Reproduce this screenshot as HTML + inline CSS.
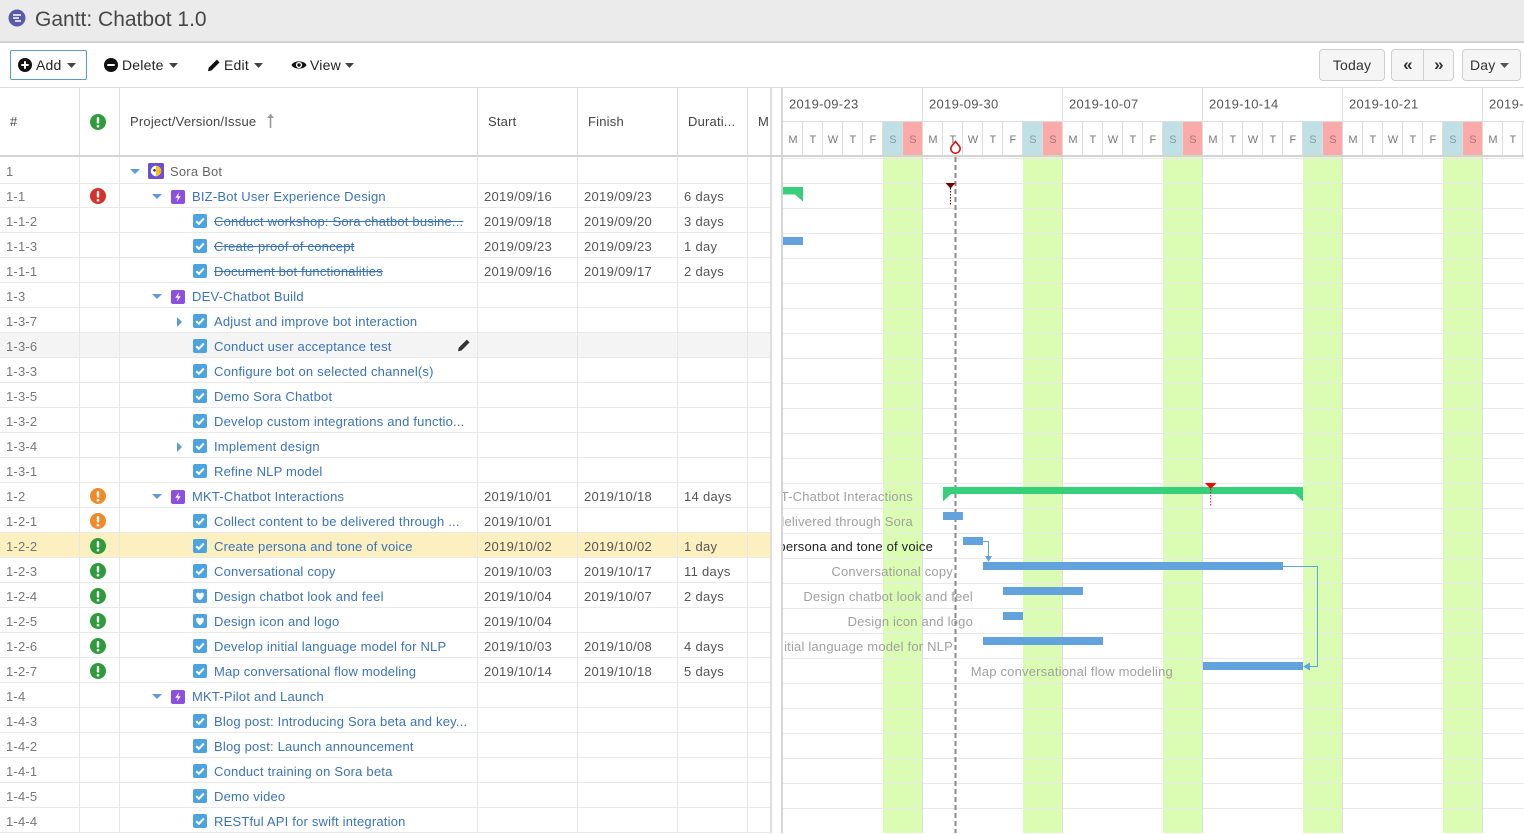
<!DOCTYPE html>
<html><head><meta charset="utf-8">
<style>
*{box-sizing:border-box}
body{margin:0;width:1524px;height:833px;overflow:hidden;position:relative;background:#fff;font-family:"Liberation Sans",Arial,sans-serif;font-size:13px;letter-spacing:0.2px;color:#444}
.a{position:absolute}
.r{position:absolute;left:0;width:770px;height:25px;border-bottom:1px solid #e9e9e9}
.n{position:absolute;left:6px;top:1px;line-height:25px;color:#777}
.t{position:absolute;top:1px;line-height:25px;color:#3b73b8;white-space:nowrap}
.s{text-decoration:line-through}
.d{position:absolute;top:1px;line-height:25px;color:#555;letter-spacing:0.3px}
.cb{position:absolute;left:193px;top:6px}
.vi{position:absolute;left:171px;top:6.5px}
.da{position:absolute;left:152px;top:11px}
.ra{position:absolute;left:177px;top:8.5px}
.pr{position:absolute;left:90px;top:5px}
.vl{position:absolute;width:1px;background:#e6e6e6;top:157px;height:676px}
.hl{position:absolute;width:1px;background:#dcdcdc;top:88px;height:67px}
.btn{position:absolute;background:#f5f5f5;border:1px solid #cfcfcf;border-radius:4px;color:#333;font-size:14px;text-align:center}
.tb{position:absolute;top:43px;line-height:44px;font-size:14px;color:#222}
</style></head>
<body>

<!-- Title bar -->
<div class="a" style="left:0;top:0;width:1524px;height:41px;background:#ebebeb"></div>
<div class="a" style="left:0;top:41px;width:1524px;height:2px;background:#d2d2d2"></div>
<svg class="a" style="left:8px;top:9px" width="18" height="18" viewBox="0 0 18 18"><circle cx="9" cy="9" r="8.5" fill="#5b5aa6"/><path d="M5 6H13M5 9H11M7 12H13" stroke="#fff" stroke-width="1.6"/></svg>
<div class="a" style="left:35px;top:-1px;line-height:41px;font-size:21px;color:#474747;letter-spacing:0px">Gantt: Chatbot 1.0</div>

<!-- Toolbar -->
<div class="a" style="left:0;top:87px;width:1524px;height:1px;background:#dddddd"></div>
<div class="a" style="left:10px;top:50px;width:77px;height:30px;border:1px solid #5b9bd5;border-radius:2px;background:#fff"></div>
<svg class="a" style="left:18px;top:58px" width="14" height="14"><circle cx="7" cy="7" r="7" fill="#111"/><path d="M7 3.3V10.7M3.3 7H10.7" stroke="#fff" stroke-width="2"/></svg>
<div class="tb" style="left:36px">Add</div>
<svg class="a" style="left:67px;top:63px" width="9" height="5"><path d="M0 0H9L4.5 5Z" fill="#444"/></svg>
<svg class="a" style="left:104px;top:58px" width="14" height="14"><circle cx="7" cy="7" r="7" fill="#111"/><path d="M3.3 7H10.7" stroke="#fff" stroke-width="2"/></svg>
<div class="tb" style="left:122px">Delete</div>
<svg class="a" style="left:169px;top:63px" width="9" height="5"><path d="M0 0H9L4.5 5Z" fill="#444"/></svg>
<svg class="a" style="left:207px;top:58px" width="14" height="14"><path d="M1 13.2L1.7 9.7L9.8 1.6L12.6 4.4L4.5 12.5Z" fill="#111"/></svg>
<div class="tb" style="left:224px">Edit</div>
<svg class="a" style="left:254px;top:63px" width="9" height="5"><path d="M0 0H9L4.5 5Z" fill="#444"/></svg>
<svg class="a" style="left:291px;top:59px" width="16" height="12"><path d="M0.5 6C3 1.2 13 1.2 15.5 6C13 10.8 3 10.8 0.5 6Z" fill="#111"/><circle cx="8" cy="6" r="3.1" fill="#fff"/><circle cx="8" cy="6" r="1.7" fill="#111"/></svg>
<div class="tb" style="left:310px">View</div>
<svg class="a" style="left:345px;top:63px" width="9" height="5"><path d="M0 0H9L4.5 5Z" fill="#444"/></svg>

<div class="btn" style="left:1319px;top:49px;width:66px;height:32px;line-height:30px">Today</div>
<div class="btn" style="left:1391px;top:49px;width:63px;height:32px;line-height:29px;font-size:17px;font-weight:bold"><span style="position:absolute;left:9px;width:14px">«</span><span style="position:absolute;left:31px;top:0;width:1px;height:30px;background:#cfcfcf"></span><span style="position:absolute;left:40px;width:14px">»</span></div>
<div class="btn" style="left:1462px;top:49px;width:59px;height:32px;line-height:30px;text-align:left;padding-left:7px">Day<svg style="position:absolute;left:37px;top:13px" width="9" height="5"><path d="M0 0H9L4.5 5Z" fill="#555"/></svg></div>

<!-- Left grid header -->
<div class="a" style="left:10px;top:88px;line-height:67px;color:#444">#</div>
<svg class="a" style="left:90px;top:114px" width="16" height="16"><circle cx="8" cy="8" r="8" fill="#2f9c3b"/><rect x="6.8" y="3" width="2.4" height="6.6" rx="1" fill="#fff"/><circle cx="8" cy="12.2" r="1.35" fill="#fff"/></svg>
<div class="a" style="left:130px;top:88px;line-height:67px;color:#444">Project/Version/Issue</div>
<svg class="a" style="left:266px;top:113px" width="9" height="16"><path d="M4.5 1V15" stroke="#999" stroke-width="1.6"/><path d="M1 5L4.5 1L8 5Z" fill="#999"/></svg>
<div class="a" style="left:488px;top:88px;line-height:67px;color:#444">Start</div>
<div class="a" style="left:588px;top:88px;line-height:67px;color:#444">Finish</div>
<div class="a" style="left:688px;top:88px;line-height:67px;color:#444">Durati...</div>
<div class="a" style="left:758px;top:88px;line-height:67px;color:#444;width:12px;overflow:hidden">M</div>
<div class="a" style="left:0;top:155px;width:1524px;height:2px;background:#d3d3d3"></div>

<!-- Left grid rows -->
<div class="r" style="top:158px;height:26px"><span class="n">1</span><svg class="da" style="left:130px" width="10" height="6"><path d="M0 0H10L5 5Z" fill="#5b9bd8"/></svg><svg class="a" style="left:148px;top:5px" width="16" height="16"><rect width="16" height="16" rx="1.5" fill="#6b4fd0"/><circle cx="8" cy="8" r="5.2" fill="#fff"/><path d="M8 2.8A5.2 5.2 0 0 1 8 13.2Z" fill="#f5c221"/><circle cx="6.5" cy="7.3" r="1.3" fill="#333"/><path d="M11 7L14 8.5L11 10Z" fill="#f5a021"/></svg><span class="t" style="left:170px;color:#666">Sora Bot</span></div>

<div class="r" style="top:183px"><span class="n">1-1</span><svg class="pr" width="16" height="16"><circle cx="8" cy="8" r="8" fill="#d9302b"/><rect x="6.8" y="3" width="2.4" height="6.6" rx="1" fill="#fff"/><circle cx="8" cy="12.2" r="1.35" fill="#fff"/></svg><svg class="da" width="10" height="6"><path d="M0 0H10L5 5Z" fill="#5b9bd8"/></svg><svg class="vi" width="14" height="14"><rect width="14" height="14" rx="2" fill="#8d4fdf"/><path d="M8.2 2.2L4.3 7.8H6.9L5.8 11.8L9.7 6.2H7.1Z" fill="#fff"/></svg><span class="t" style="left:192px">BIZ-Bot User Experience Design</span><span class="d" style="left:484px">2019/09/16</span><span class="d" style="left:584px">2019/09/23</span><span class="d" style="left:684px">6 days</span></div>

<div class="r" style="top:208px"><span class="n">1-1-2</span><svg class="cb" width="14" height="14"><rect width="14" height="14" rx="2" fill="#4ba4e0"/><path d="M3.3 7.3L5.9 9.8L10.8 4.5" stroke="#fff" stroke-width="2.1" fill="none"/></svg><span class="t s" style="left:214px">Conduct workshop: Sora chatbot busine...</span><span class="d" style="left:484px">2019/09/18</span><span class="d" style="left:584px">2019/09/20</span><span class="d" style="left:684px">3 days</span></div>

<div class="r" style="top:233px"><span class="n">1-1-3</span><svg class="cb" width="14" height="14"><rect width="14" height="14" rx="2" fill="#4ba4e0"/><path d="M3.3 7.3L5.9 9.8L10.8 4.5" stroke="#fff" stroke-width="2.1" fill="none"/></svg><span class="t s" style="left:214px">Create proof of concept</span><span class="d" style="left:484px">2019/09/23</span><span class="d" style="left:584px">2019/09/23</span><span class="d" style="left:684px">1 day</span></div>

<div class="r" style="top:258px"><span class="n">1-1-1</span><svg class="cb" width="14" height="14"><rect width="14" height="14" rx="2" fill="#4ba4e0"/><path d="M3.3 7.3L5.9 9.8L10.8 4.5" stroke="#fff" stroke-width="2.1" fill="none"/></svg><span class="t s" style="left:214px">Document bot functionalities</span><span class="d" style="left:484px">2019/09/16</span><span class="d" style="left:584px">2019/09/17</span><span class="d" style="left:684px">2 days</span></div>

<div class="r" style="top:283px"><span class="n">1-3</span><svg class="da" width="10" height="6"><path d="M0 0H10L5 5Z" fill="#5b9bd8"/></svg><svg class="vi" width="14" height="14"><rect width="14" height="14" rx="2" fill="#8d4fdf"/><path d="M8.2 2.2L4.3 7.8H6.9L5.8 11.8L9.7 6.2H7.1Z" fill="#fff"/></svg><span class="t" style="left:192px">DEV-Chatbot Build</span></div>

<div class="r" style="top:308px"><span class="n">1-3-7</span><svg class="ra" width="6" height="10"><path d="M0 0V10L5 5Z" fill="#5b9bd8"/></svg><svg class="cb" width="14" height="14"><rect width="14" height="14" rx="2" fill="#4ba4e0"/><path d="M3.3 7.3L5.9 9.8L10.8 4.5" stroke="#fff" stroke-width="2.1" fill="none"/></svg><span class="t" style="left:214px">Adjust and improve bot interaction</span></div>

<div class="r" style="top:333px;background:#f4f4f4"><span class="n">1-3-6</span><svg class="cb" width="14" height="14"><rect width="14" height="14" rx="2" fill="#4ba4e0"/><path d="M3.3 7.3L5.9 9.8L10.8 4.5" stroke="#fff" stroke-width="2.1" fill="none"/></svg><span class="t" style="left:214px">Conduct user acceptance test</span><svg class="a" style="left:457px;top:5px" width="14" height="14"><path d="M1 13.2L1.7 9.7L9.8 1.6L12.6 4.4L4.5 12.5Z" fill="#333"/></svg></div>

<div class="r" style="top:358px"><span class="n">1-3-3</span><svg class="cb" width="14" height="14"><rect width="14" height="14" rx="2" fill="#4ba4e0"/><path d="M3.3 7.3L5.9 9.8L10.8 4.5" stroke="#fff" stroke-width="2.1" fill="none"/></svg><span class="t" style="left:214px">Configure bot on selected channel(s)</span></div>

<div class="r" style="top:383px"><span class="n">1-3-5</span><svg class="cb" width="14" height="14"><rect width="14" height="14" rx="2" fill="#4ba4e0"/><path d="M3.3 7.3L5.9 9.8L10.8 4.5" stroke="#fff" stroke-width="2.1" fill="none"/></svg><span class="t" style="left:214px">Demo Sora Chatbot</span></div>

<div class="r" style="top:408px"><span class="n">1-3-2</span><svg class="cb" width="14" height="14"><rect width="14" height="14" rx="2" fill="#4ba4e0"/><path d="M3.3 7.3L5.9 9.8L10.8 4.5" stroke="#fff" stroke-width="2.1" fill="none"/></svg><span class="t" style="left:214px">Develop custom integrations and functio...</span></div>

<div class="r" style="top:433px"><span class="n">1-3-4</span><svg class="ra" width="6" height="10"><path d="M0 0V10L5 5Z" fill="#5b9bd8"/></svg><svg class="cb" width="14" height="14"><rect width="14" height="14" rx="2" fill="#4ba4e0"/><path d="M3.3 7.3L5.9 9.8L10.8 4.5" stroke="#fff" stroke-width="2.1" fill="none"/></svg><span class="t" style="left:214px">Implement design</span></div>

<div class="r" style="top:458px"><span class="n">1-3-1</span><svg class="cb" width="14" height="14"><rect width="14" height="14" rx="2" fill="#4ba4e0"/><path d="M3.3 7.3L5.9 9.8L10.8 4.5" stroke="#fff" stroke-width="2.1" fill="none"/></svg><span class="t" style="left:214px">Refine NLP model</span></div>

<div class="r" style="top:483px"><span class="n">1-2</span><svg class="pr" width="16" height="16"><circle cx="8" cy="8" r="8" fill="#f28a2a"/><rect x="6.8" y="3" width="2.4" height="6.6" rx="1" fill="#fff"/><circle cx="8" cy="12.2" r="1.35" fill="#fff"/></svg><svg class="da" width="10" height="6"><path d="M0 0H10L5 5Z" fill="#5b9bd8"/></svg><svg class="vi" width="14" height="14"><rect width="14" height="14" rx="2" fill="#8d4fdf"/><path d="M8.2 2.2L4.3 7.8H6.9L5.8 11.8L9.7 6.2H7.1Z" fill="#fff"/></svg><span class="t" style="left:192px">MKT-Chatbot Interactions</span><span class="d" style="left:484px">2019/10/01</span><span class="d" style="left:584px">2019/10/18</span><span class="d" style="left:684px">14 days</span></div>

<div class="r" style="top:508px"><span class="n">1-2-1</span><svg class="pr" width="16" height="16"><circle cx="8" cy="8" r="8" fill="#f28a2a"/><rect x="6.8" y="3" width="2.4" height="6.6" rx="1" fill="#fff"/><circle cx="8" cy="12.2" r="1.35" fill="#fff"/></svg><svg class="cb" width="14" height="14"><rect width="14" height="14" rx="2" fill="#4ba4e0"/><path d="M3.3 7.3L5.9 9.8L10.8 4.5" stroke="#fff" stroke-width="2.1" fill="none"/></svg><span class="t" style="left:214px">Collect content to be delivered through ...</span><span class="d" style="left:484px">2019/10/01</span></div>

<div class="r" style="top:533px;background:#fcefc0"><span class="n">1-2-2</span><svg class="pr" width="16" height="16"><circle cx="8" cy="8" r="8" fill="#2f9c3b"/><rect x="6.8" y="3" width="2.4" height="6.6" rx="1" fill="#fff"/><circle cx="8" cy="12.2" r="1.35" fill="#fff"/></svg><svg class="cb" width="14" height="14"><rect width="14" height="14" rx="2" fill="#4ba4e0"/><path d="M3.3 7.3L5.9 9.8L10.8 4.5" stroke="#fff" stroke-width="2.1" fill="none"/></svg><span class="t" style="left:214px">Create persona and tone of voice</span><span class="d" style="left:484px">2019/10/02</span><span class="d" style="left:584px">2019/10/02</span><span class="d" style="left:684px">1 day</span></div>

<div class="r" style="top:558px"><span class="n">1-2-3</span><svg class="pr" width="16" height="16"><circle cx="8" cy="8" r="8" fill="#2f9c3b"/><rect x="6.8" y="3" width="2.4" height="6.6" rx="1" fill="#fff"/><circle cx="8" cy="12.2" r="1.35" fill="#fff"/></svg><svg class="cb" width="14" height="14"><rect width="14" height="14" rx="2" fill="#4ba4e0"/><path d="M3.3 7.3L5.9 9.8L10.8 4.5" stroke="#fff" stroke-width="2.1" fill="none"/></svg><span class="t" style="left:214px">Conversational copy</span><span class="d" style="left:484px">2019/10/03</span><span class="d" style="left:584px">2019/10/17</span><span class="d" style="left:684px">11 days</span></div>

<div class="r" style="top:583px"><span class="n">1-2-4</span><svg class="pr" width="16" height="16"><circle cx="8" cy="8" r="8" fill="#2f9c3b"/><rect x="6.8" y="3" width="2.4" height="6.6" rx="1" fill="#fff"/><circle cx="8" cy="12.2" r="1.35" fill="#fff"/></svg><svg class="cb" width="14" height="14"><rect width="14" height="14" rx="2" fill="#4ba4e0"/><path d="M7 11.3C2 7.9 2.6 3.6 5 3.6C6 3.6 6.7 4.3 7 5C7.3 4.3 8 3.6 9 3.6C11.4 3.6 12 7.9 7 11.3Z" fill="#fff"/></svg><span class="t" style="left:214px">Design chatbot look and feel</span><span class="d" style="left:484px">2019/10/04</span><span class="d" style="left:584px">2019/10/07</span><span class="d" style="left:684px">2 days</span></div>

<div class="r" style="top:608px"><span class="n">1-2-5</span><svg class="pr" width="16" height="16"><circle cx="8" cy="8" r="8" fill="#2f9c3b"/><rect x="6.8" y="3" width="2.4" height="6.6" rx="1" fill="#fff"/><circle cx="8" cy="12.2" r="1.35" fill="#fff"/></svg><svg class="cb" width="14" height="14"><rect width="14" height="14" rx="2" fill="#4ba4e0"/><path d="M7 11.3C2 7.9 2.6 3.6 5 3.6C6 3.6 6.7 4.3 7 5C7.3 4.3 8 3.6 9 3.6C11.4 3.6 12 7.9 7 11.3Z" fill="#fff"/></svg><span class="t" style="left:214px">Design icon and logo</span><span class="d" style="left:484px">2019/10/04</span></div>

<div class="r" style="top:633px"><span class="n">1-2-6</span><svg class="pr" width="16" height="16"><circle cx="8" cy="8" r="8" fill="#2f9c3b"/><rect x="6.8" y="3" width="2.4" height="6.6" rx="1" fill="#fff"/><circle cx="8" cy="12.2" r="1.35" fill="#fff"/></svg><svg class="cb" width="14" height="14"><rect width="14" height="14" rx="2" fill="#4ba4e0"/><path d="M3.3 7.3L5.9 9.8L10.8 4.5" stroke="#fff" stroke-width="2.1" fill="none"/></svg><span class="t" style="left:214px">Develop initial language model for NLP</span><span class="d" style="left:484px">2019/10/03</span><span class="d" style="left:584px">2019/10/08</span><span class="d" style="left:684px">4 days</span></div>

<div class="r" style="top:658px"><span class="n">1-2-7</span><svg class="pr" width="16" height="16"><circle cx="8" cy="8" r="8" fill="#2f9c3b"/><rect x="6.8" y="3" width="2.4" height="6.6" rx="1" fill="#fff"/><circle cx="8" cy="12.2" r="1.35" fill="#fff"/></svg><svg class="cb" width="14" height="14"><rect width="14" height="14" rx="2" fill="#4ba4e0"/><path d="M3.3 7.3L5.9 9.8L10.8 4.5" stroke="#fff" stroke-width="2.1" fill="none"/></svg><span class="t" style="left:214px">Map conversational flow modeling</span><span class="d" style="left:484px">2019/10/14</span><span class="d" style="left:584px">2019/10/18</span><span class="d" style="left:684px">5 days</span></div>

<div class="r" style="top:683px"><span class="n">1-4</span><svg class="da" width="10" height="6"><path d="M0 0H10L5 5Z" fill="#5b9bd8"/></svg><svg class="vi" width="14" height="14"><rect width="14" height="14" rx="2" fill="#8d4fdf"/><path d="M8.2 2.2L4.3 7.8H6.9L5.8 11.8L9.7 6.2H7.1Z" fill="#fff"/></svg><span class="t" style="left:192px">MKT-Pilot and Launch</span></div>

<div class="r" style="top:708px"><span class="n">1-4-3</span><svg class="cb" width="14" height="14"><rect width="14" height="14" rx="2" fill="#4ba4e0"/><path d="M3.3 7.3L5.9 9.8L10.8 4.5" stroke="#fff" stroke-width="2.1" fill="none"/></svg><span class="t" style="left:214px">Blog post: Introducing Sora beta and key...</span></div>

<div class="r" style="top:733px"><span class="n">1-4-2</span><svg class="cb" width="14" height="14"><rect width="14" height="14" rx="2" fill="#4ba4e0"/><path d="M3.3 7.3L5.9 9.8L10.8 4.5" stroke="#fff" stroke-width="2.1" fill="none"/></svg><span class="t" style="left:214px">Blog post: Launch announcement</span></div>

<div class="r" style="top:758px"><span class="n">1-4-1</span><svg class="cb" width="14" height="14"><rect width="14" height="14" rx="2" fill="#4ba4e0"/><path d="M3.3 7.3L5.9 9.8L10.8 4.5" stroke="#fff" stroke-width="2.1" fill="none"/></svg><span class="t" style="left:214px">Conduct training on Sora beta</span></div>

<div class="r" style="top:783px"><span class="n">1-4-5</span><svg class="cb" width="14" height="14"><rect width="14" height="14" rx="2" fill="#4ba4e0"/><path d="M3.3 7.3L5.9 9.8L10.8 4.5" stroke="#fff" stroke-width="2.1" fill="none"/></svg><span class="t" style="left:214px">Demo video</span></div>

<div class="r" style="top:808px"><span class="n">1-4-4</span><svg class="cb" width="14" height="14"><rect width="14" height="14" rx="2" fill="#4ba4e0"/><path d="M3.3 7.3L5.9 9.8L10.8 4.5" stroke="#fff" stroke-width="2.1" fill="none"/></svg><span class="t" style="left:214px">RESTful API for swift integration</span></div>

<!-- grid vertical lines -->
<div class="hl" style="left:79px"></div><div class="hl" style="left:119px"></div><div class="hl" style="left:477px"></div><div class="hl" style="left:577px"></div><div class="hl" style="left:677px"></div><div class="hl" style="left:747px"></div>
<div class="vl" style="left:79px"></div><div class="vl" style="left:119px"></div><div class="vl" style="left:477px"></div><div class="vl" style="left:577px"></div><div class="vl" style="left:677px"></div><div class="vl" style="left:747px"></div>

<!-- Gantt -->
<svg class="a" style="left:0;top:0" width="1524" height="833" font-family="Liberation Sans, Arial, sans-serif">
<defs>
<pattern id="rows" patternUnits="userSpaceOnUse" x="0" y="158" width="40" height="25"><rect x="0" y="25" width="40" height="1" fill="#e9e9e9"/><rect x="0" y="0" width="40" height="1" fill="#e9e9e9"/></pattern>
<pattern id="days" patternUnits="userSpaceOnUse" x="783" y="0" width="20" height="40"><rect x="19" y="0" width="1" height="40" fill="#dddddd"/></pattern>
<clipPath id="gc"><rect x="783" y="157" width="741" height="676"/></clipPath>
</defs>
<!-- splitter -->
<rect x="770" y="88" width="13" height="745" fill="#fff"/>
<rect x="770" y="88" width="2" height="745" fill="#dedede"/>
<rect x="781" y="88" width="2" height="745" fill="#d6d6d6"/>
<!-- header -->
<rect x="783" y="121" width="741" height="1" fill="#dddddd"/>
<rect x="883" y="122" width="20" height="33" fill="#bfe1e6"/><rect x="903" y="122" width="20" height="33" fill="#fbaaaa"/>
<rect x="1023" y="122" width="20" height="33" fill="#bfe1e6"/><rect x="1043" y="122" width="20" height="33" fill="#fbaaaa"/>
<rect x="1163" y="122" width="20" height="33" fill="#bfe1e6"/><rect x="1183" y="122" width="20" height="33" fill="#fbaaaa"/>
<rect x="1303" y="122" width="20" height="33" fill="#bfe1e6"/><rect x="1323" y="122" width="20" height="33" fill="#fbaaaa"/>
<rect x="1443" y="122" width="20" height="33" fill="#bfe1e6"/><rect x="1463" y="122" width="20" height="33" fill="#fbaaaa"/>
<rect x="783" y="122" width="741" height="33" fill="url(#days)"/>
<g fill="#dddddd"><rect x="922" y="88" width="1" height="34"/><rect x="1062" y="88" width="1" height="34"/><rect x="1202" y="88" width="1" height="34"/><rect x="1342" y="88" width="1" height="34"/><rect x="1482" y="88" width="1" height="34"/></g>
<g font-size="13" fill="#555" letter-spacing="0.3">
<text x="789" y="108.5">2019-09-23</text><text x="929" y="108.5">2019-09-30</text><text x="1069" y="108.5">2019-10-07</text><text x="1209" y="108.5">2019-10-14</text><text x="1349" y="108.5">2019-10-21</text><text x="1489" y="108.5">2019-10-28</text>
</g>
<g font-size="11" fill="#777" text-anchor="middle">
<text x="793" y="143">M</text><text x="813" y="143">T</text><text x="833" y="143">W</text><text x="853" y="143">T</text><text x="873" y="143">F</text><text x="893" y="143" fill="#8a9a9c">S</text><text x="913" y="143" fill="#a87777">S</text>
<text x="933" y="143">M</text><text x="953" y="143">T</text><text x="973" y="143">W</text><text x="993" y="143">T</text><text x="1013" y="143">F</text><text x="1033" y="143" fill="#8a9a9c">S</text><text x="1053" y="143" fill="#a87777">S</text>
<text x="1073" y="143">M</text><text x="1093" y="143">T</text><text x="1113" y="143">W</text><text x="1133" y="143">T</text><text x="1153" y="143">F</text><text x="1173" y="143" fill="#8a9a9c">S</text><text x="1193" y="143" fill="#a87777">S</text>
<text x="1213" y="143">M</text><text x="1233" y="143">T</text><text x="1253" y="143">W</text><text x="1273" y="143">T</text><text x="1293" y="143">F</text><text x="1313" y="143" fill="#8a9a9c">S</text><text x="1333" y="143" fill="#a87777">S</text>
<text x="1353" y="143">M</text><text x="1373" y="143">T</text><text x="1393" y="143">W</text><text x="1413" y="143">T</text><text x="1433" y="143">F</text><text x="1453" y="143" fill="#8a9a9c">S</text><text x="1473" y="143" fill="#a87777">S</text>
<text x="1493" y="143">M</text><text x="1513" y="143">T</text>
</g>
<rect x="770" y="155" width="754" height="2" fill="#d3d3d3"/>
<!-- body -->
<g fill="#dafdb3">
<rect x="883" y="157" width="40" height="676"/><rect x="1023" y="157" width="40" height="676"/><rect x="1163" y="157" width="40" height="676"/><rect x="1303" y="157" width="40" height="676"/><rect x="1443" y="157" width="40" height="676"/>
</g>
<rect x="783" y="158" width="741" height="675" fill="url(#rows)"/>
<g fill="#dddddd"><rect x="922" y="157" width="1" height="676"/><rect x="1062" y="157" width="1" height="676"/><rect x="1202" y="157" width="1" height="676"/><rect x="1342" y="157" width="1" height="676"/><rect x="1482" y="157" width="1" height="676"/></g>

<!-- today line -->
<line x1="955.5" y1="157" x2="955.5" y2="833" stroke="#8a8a8a" stroke-width="2" stroke-dasharray="5 3"/>
<path d="M955.5 141.5L959.6 146.5A4.6 4.6 0 1 1 951.4 146.5Z" fill="#fff" stroke="#e01010" stroke-width="1.6"/>

<g clip-path="url(#gc)">
<!-- labels -->
<g font-size="13" fill="#a0a0a0" text-anchor="end">
<text x="913" y="501">MKT-Chatbot Interactions</text>
<text x="913" y="526">Collect content to be delivered through Sora</text>
<text x="933" y="551" fill="#222">Create persona and tone of voice</text>
<text x="953" y="576">Conversational copy</text>
<text x="973" y="601">Design chatbot look and feel</text>
<text x="973" y="626">Design icon and logo</text>
<text x="953" y="651">Develop initial language model for NLP</text>
<text x="1173" y="676">Map conversational flow modeling</text>
</g>
<!-- BIZ summary -->
<rect x="770" y="187" width="33" height="7.5" fill="#37d07a"/>
<path d="M795 194.5H803V201.5Z" fill="#37d07a"/>
<path d="M945.5 183H955.5L950.5 188.5Z" fill="#7a0000"/>
<line x1="950.5" y1="188" x2="950.5" y2="206" stroke="#7a0000" stroke-width="1" stroke-dasharray="1.5 1.5"/>
<!-- proof -->
<rect x="770" y="237" width="33" height="8" fill="#62a2dd"/>
<!-- MKT summary -->
<rect x="943" y="487" width="360" height="7" fill="#37d07a"/>
<path d="M943 494H951L943 501.5Z" fill="#37d07a"/>
<path d="M1295 494H1303V501.5Z" fill="#37d07a"/>
<path d="M1205 483H1216.5L1210.7 489Z" fill="#ff0000"/>
<line x1="1210.7" y1="489" x2="1210.7" y2="506" stroke="#ff0000" stroke-width="1" stroke-dasharray="1.5 1.5"/>
<!-- tasks -->
<g fill="#62a2dd">
<rect x="943" y="512" width="20" height="8"/>
<rect x="963" y="537" width="20" height="8"/>
<rect x="983" y="562" width="300" height="8"/>
<rect x="1003" y="587" width="80" height="8"/>
<rect x="1003" y="612" width="20" height="8"/>
<rect x="983" y="637" width="120" height="8"/>
<rect x="1203" y="662" width="100" height="8"/>
</g>
<!-- connectors -->
<polyline points="983,541.5 988.5,541.5 988.5,557" fill="none" stroke="#62a2dd" stroke-width="1"/>
<path d="M985 556H992L988.5 562Z" fill="#62a2dd"/>
<polyline points="1283,566.5 1317.5,566.5 1317.5,666.5 1309,666.5" fill="none" stroke="#62a2dd" stroke-width="1"/>
<path d="M1310 662.5V670.5L1303 666.5Z" fill="#62a2dd"/>
</g>
</svg>

</body></html>
